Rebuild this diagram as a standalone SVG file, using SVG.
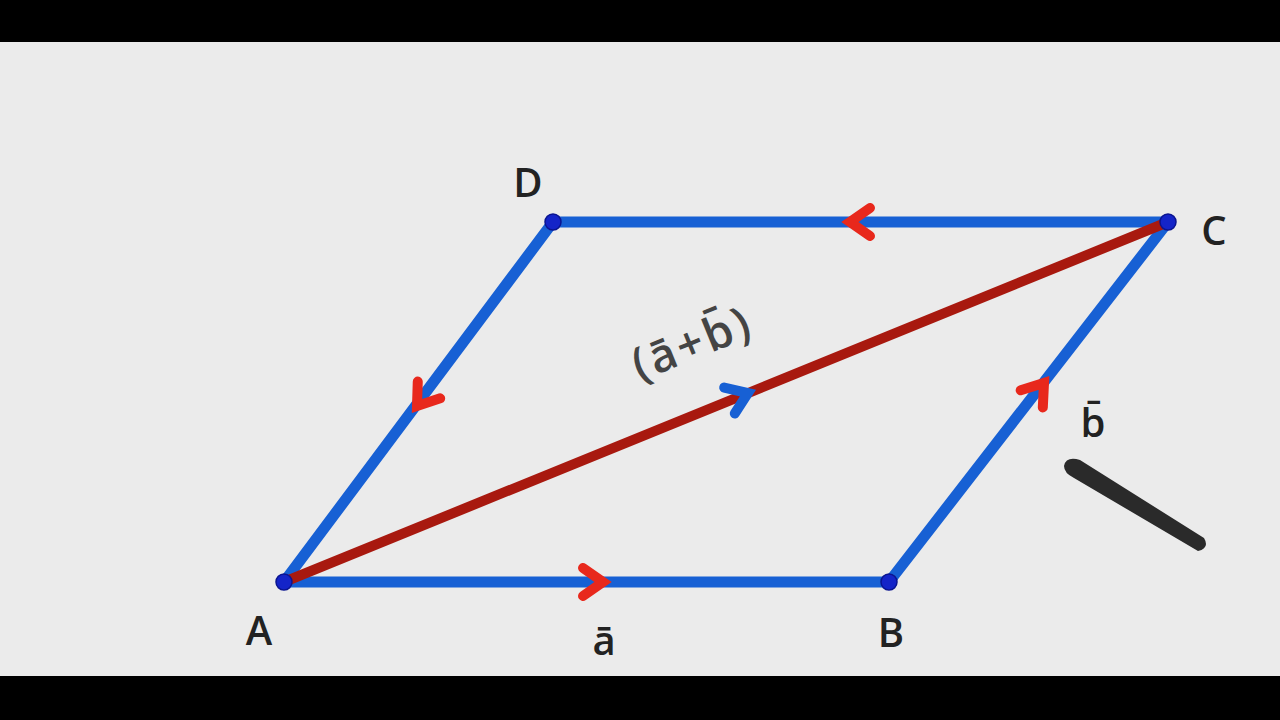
<svg xmlns="http://www.w3.org/2000/svg" width="1280" height="720" viewBox="0 0 1280 720">
<style>
.side{stroke:#1760d4;stroke-width:11;stroke-linecap:round;fill:none}
.diag{stroke:#a8190f;stroke-width:10;stroke-linecap:round;fill:none}
.lbl{font-family:"Open Sans","DejaVu Sans",sans-serif;font-weight:600;font-size:40px;fill:#222}
.pt{fill:#1424c8;stroke:#0a1490;stroke-width:1.5}
</style>
<defs>
<path id="chev" d="M-20,-14 L0,0 L-20,14" fill="none" stroke-width="10" stroke-linecap="round" stroke-linejoin="miter"/>
</defs>
<rect x="0" y="0" width="1280" height="720" fill="#ebebeb"/>
<rect x="0" y="0" width="1280" height="42" fill="#000"/>
<rect x="0" y="676" width="1280" height="44" fill="#000"/>
<g id="connectors">
<line class="side" x1="284" y1="582" x2="889" y2="582"/>
<line class="side" x1="889" y1="582" x2="1168" y2="222"/>
<line class="side" x1="1168" y1="222" x2="553" y2="222"/>
<line class="side" x1="553" y1="222" x2="284" y2="582"/>
<line class="diag" x1="284" y1="582" x2="1168" y2="222"/>
<use href="#chev" stroke="#e8281c" transform="translate(603,582)"/>
<use href="#chev" stroke="#e8281c" transform="translate(850,222) rotate(180)"/>
<use href="#chev" stroke="#e8281c" transform="translate(417,406) rotate(126.8)"/>
<use href="#chev" stroke="#e8281c" transform="translate(1044,383) rotate(-52.2)"/>
<use href="#chev" stroke="#1760d4" transform="translate(748,393) rotate(-22.2)"/>
</g>
<g id="A"><circle class="pt" cx="284" cy="582" r="8"/><text class="lbl" x="259" y="645" text-anchor="middle">A</text></g>
<g id="B"><circle class="pt" cx="889" cy="582" r="8"/><text class="lbl" x="891" y="647" text-anchor="middle">B</text></g>
<g id="C"><circle class="pt" cx="1168" cy="222" r="8"/><text class="lbl" x="1214" y="245" text-anchor="middle">C</text></g>
<g id="D"><circle class="pt" cx="553" cy="222" r="8"/><text class="lbl" x="528" y="197" text-anchor="middle">D</text></g>
<g id="label-a"><text class="lbl" x="604" y="655" text-anchor="middle">ā</text></g>
<g id="label-b"><text class="lbl" x="1093" y="437" text-anchor="middle">b̄</text></g>
<g id="label-sum"><text class="lbl" x="0" y="0" text-anchor="middle" style="fill:#444;font-size:46px;letter-spacing:3px" transform="translate(698,358) rotate(-22)">(ā+b̄)</text></g>
<g id="pen"><path d="M1064,466 Q1066,456 1080,460 L1204,538 Q1210,548 1198,551 L1074,478 Q1064,473 1064,466 Z" fill="#2a2a2a"/></g>
</svg>
